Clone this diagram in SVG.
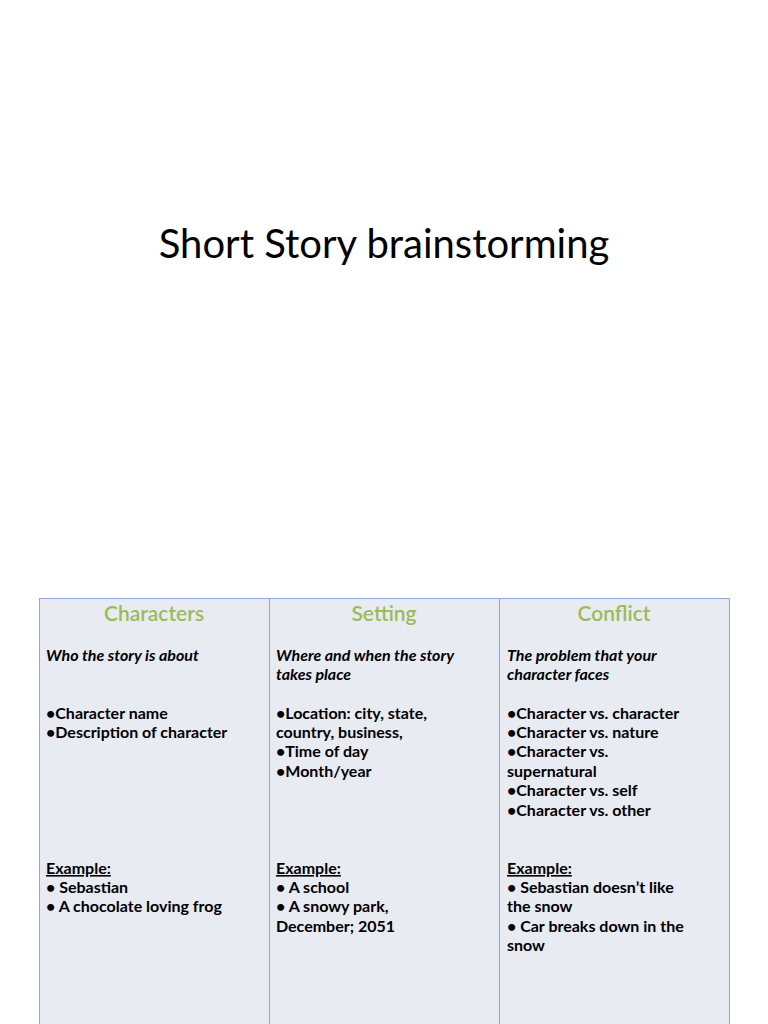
<svg xmlns="http://www.w3.org/2000/svg" width="768" height="1024" viewBox="0 0 768 1024">
<style>
text{font-family:Lato,"Open Sans",sans-serif;fill:#000}
.h{font-size:21px;fill:#9BBB59;text-anchor:middle;font-weight:600}
.i{font-size:16px;font-style:italic;font-weight:bold}
.b{font-size:16px;font-weight:bold}
.u{text-decoration:underline}
.cell{fill:#E9EBF2;stroke:#8EA9D8;stroke-width:1}
</style>
<rect width="768" height="1024" fill="#fff"/>
<text x="384" y="258" font-size="40" text-anchor="middle">Short Story brainstorming</text>
<g id="characters">
<rect class="cell" x="39.5" y="598.5" width="230" height="430"/>
<text class="h" x="154" y="621">Characters</text>
<text class="i" x="46" y="661">Who the story is about</text>
<text class="b" x="46" y="719">•Character name</text>
<text class="b" x="46" y="738">•Description of character</text>
<text class="b u" x="46" y="874">Example:</text>
<text class="b" x="46" y="893">• Sebastian</text>
<text class="b" x="46" y="912">• A chocolate loving frog</text>
</g>
<g id="setting">
<rect class="cell" x="269.5" y="598.5" width="230" height="430"/>
<text class="h" x="384" y="621">Setting</text>
<text class="i" x="276" y="661">Where and when the story</text>
<text class="i" x="276" y="680">takes place</text>
<text class="b" x="276" y="719">•Location: city, state,</text>
<text class="b" x="276" y="738">country, business,</text>
<text class="b" x="276" y="757">•Time of day</text>
<text class="b" x="276" y="777">•Month/year</text>
<text class="b u" x="276" y="874">Example:</text>
<text class="b" x="276" y="893">• A school</text>
<text class="b" x="276" y="912">• A snowy park,</text>
<text class="b" x="276" y="932">December; 2051</text>
</g>
<g id="conflict">
<rect class="cell" x="499.5" y="598.5" width="230" height="430"/>
<text class="h" x="614" y="621">Conflict</text>
<text class="i" x="507" y="661">The problem that your</text>
<text class="i" x="507" y="680">character faces</text>
<text class="b" x="507" y="719">•Character vs. character</text>
<text class="b" x="507" y="738">•Character vs. nature</text>
<text class="b" x="507" y="757">•Character vs.</text>
<text class="b" x="507" y="777">supernatural</text>
<text class="b" x="507" y="796">•Character vs. self</text>
<text class="b" x="507" y="816">•Character vs. other</text>
<text class="b u" x="507" y="874">Example:</text>
<text class="b" x="507" y="893">• Sebastian doesn’t like</text>
<text class="b" x="507" y="912">the snow</text>
<text class="b" x="507" y="932">• Car breaks down in the</text>
<text class="b" x="507" y="951">snow</text>
</g>
<g id="connectors"/>
</svg>
